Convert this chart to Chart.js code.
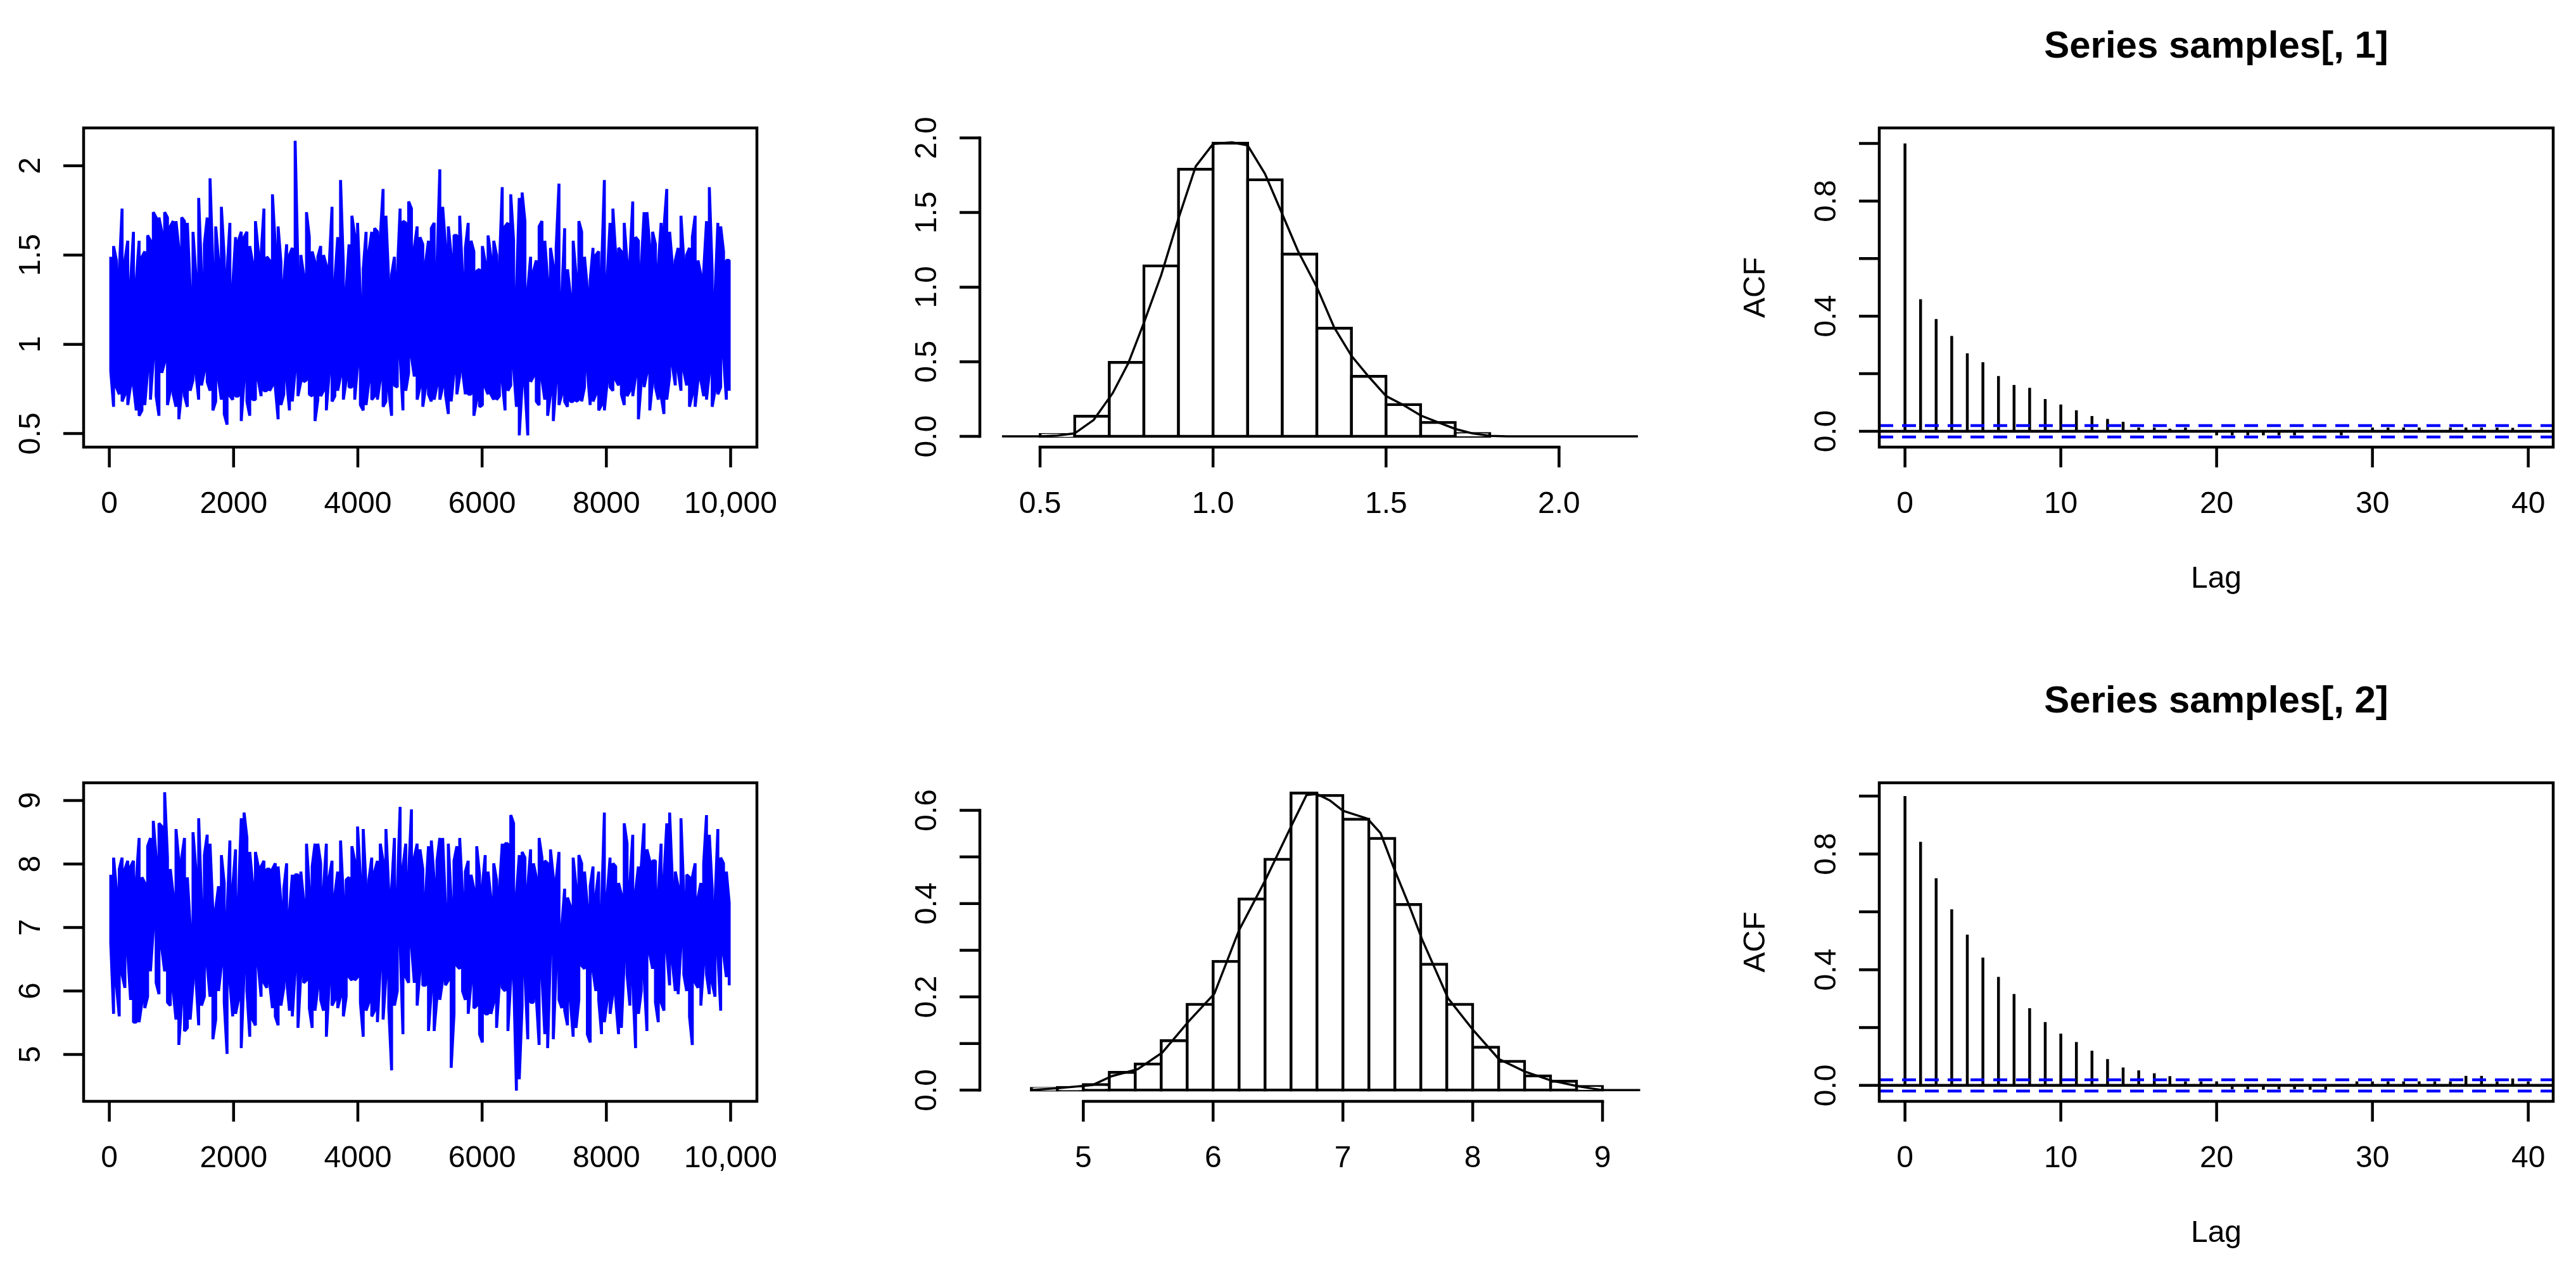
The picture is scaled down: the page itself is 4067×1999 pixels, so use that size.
<!DOCTYPE html>
<html lang="en">
<head>
<meta charset="utf-8">
<title>samples: trace, density, ACF</title>
<script src="https://cdn.jsdelivr.net/npm/chart.js@4.4.1/dist/chart.umd.min.js"></script>
<style>
  html, body { margin: 0; padding: 0; background: #fff; }
  #page { position: relative; width: 4067px; height: 1999px; overflow: hidden; background: #fff; }
  #page canvas { position: absolute; }
</style>
</head>
<body>
<div id="page">
  <canvas id="trace1"></canvas>
  <canvas id="hist1"></canvas>
  <canvas id="acf1"></canvas>
  <canvas id="trace2"></canvas>
  <canvas id="hist2"></canvas>
  <canvas id="acf2"></canvas>
</div>

<script>
// ---- data ----

// trace plots: per screen column, highest and lowest sample value
var traceIterations = 10000;
var trace1Hi = [
  1.49,1.55,1.47,1.41,1.76,1.47,1.58,1.35,1.63,1.36, 1.58,1.49,1.52,1.61,1.58,1.74,1.71,1.71,1.63,1.74,
  1.71,1.66,1.69,1.69,1.54,1.71,1.69,1.68,1.31,1.63, 1.39,1.82,1.39,1.56,1.71,1.93,1.44,1.66,1.47,1.77,
  1.49,1.41,1.68,1.33,1.60,1.58,1.63,1.60,1.63,1.55, 1.46,1.69,1.52,1.50,1.76,1.49,1.47,1.84,1.55,1.66,
  1.46,1.35,1.56,1.50,1.54,2.14,1.41,1.50,1.39,1.74, 1.60,1.52,1.46,1.49,1.55,1.50,1.44,1.44,1.77,1.36,
  1.60,1.92,1.44,1.31,1.56,1.72,1.61,1.68,1.26,1.42, 1.63,1.52,1.63,1.65,1.63,1.60,1.87,1.72,1.35,1.39,
  1.49,1.39,1.76,1.69,1.68,1.80,1.76,1.54,1.66,1.60, 1.56,1.46,1.58,
  1.65,1.68,1.44,1.98,1.77,1.55,1.66,1.50,1.61,1.61, 1.72,1.39,1.54,1.68,1.58,1.52,1.41,1.42,1.55,1.46,
  1.61,1.49,1.58,1.50,1.44,1.88,1.66,1.68,1.84,1.58, 1.30,1.82,1.85,1.69,1.31,1.49,1.41,1.47,1.66,1.69,
  1.58,1.36,1.54,1.44,1.54,1.90,1.28,1.65,1.42,1.28, 1.58,1.39,1.69,1.63,1.49,1.31,1.36,1.54,1.50,1.52,
  1.41,1.92,1.38,1.68,1.76,1.50,1.54,1.52,1.68,1.46, 1.47,1.80,1.60,1.58,1.44,1.74,1.74,1.55,1.63,1.56,
  1.44,1.68,1.65,1.87,1.63,1.44,1.47,1.54,1.72,1.47, 1.50,1.54,1.60,1.72,1.47,1.39,1.41,1.69,1.88,1.41,
  1.28,1.68,1.66,1.52,1.47,1.47
];
var trace1Lo = [
  0.85,0.65,0.76,0.72,0.68,0.72,0.66,0.77,0.77,0.63, 0.60,0.63,0.66,0.85,0.69,0.92,0.71,0.60,0.84,0.90,
  0.66,0.74,0.72,0.65,0.58,0.74,0.71,0.65,0.74,0.80, 0.84,0.69,0.77,0.85,0.79,0.74,0.63,0.68,0.80,0.69,
  0.61,0.55,0.71,0.69,0.71,0.71,0.57,0.80,0.68,0.60, 0.69,0.69,0.80,0.71,0.74,0.74,0.74,0.77,0.76,0.58,
  0.66,0.72,0.80,0.63,0.68,0.85,0.71,0.79,0.79,0.80, 0.72,0.71,0.57,0.69,0.71,0.74,0.63,0.84,0.68,0.71,
  0.74,0.82,0.69,0.80,0.76,0.76,0.69,0.88,0.66,0.63, 0.66,0.79,0.69,0.71,0.69,0.80,0.65,0.68,0.74,0.60,
  0.77,0.76,0.93,0.63,0.74,0.84,0.93,0.82,0.69,0.76, 0.65,0.76,0.72,
  0.68,0.69,0.77,0.69,0.76,0.72,0.61,0.68,0.84,0.72, 0.82,0.85,0.72,0.72,0.72,0.60,0.69,0.65,0.66,0.76,
  0.72,0.72,0.69,0.69,0.71,0.79,0.63,0.74,0.77,0.87, 0.65,0.49,0.77,0.77,0.49,0.79,0.82,0.68,0.66,0.80,
  0.69,0.60,0.72,0.57,0.79,0.66,0.72,0.68,0.65,0.68, 0.68,0.68,0.69,0.68,0.76,0.85,0.66,0.68,0.72,0.63,
  0.66,0.63,0.79,0.76,0.74,0.80,0.77,0.72,0.66,0.71, 0.74,0.71,0.82,0.58,0.79,0.76,0.84,0.63,0.79,0.76,
  0.69,0.71,0.61,0.69,0.82,0.88,0.77,0.85,0.74,0.85, 0.77,0.65,0.72,0.65,0.80,0.80,0.71,0.69,0.84,0.65,
  0.74,0.72,0.76,0.93,0.69,0.74
];
var trace2Hi = [
  7.83,8.10,7.61,7.92,8.10,7.92,8.05,7.96,8.05,7.75, 8.41,7.79,7.70,8.28,8.41,8.68,8.10,8.64,8.59,9.13,
  8.10,7.92,7.52,8.55,8.05,8.10,8.41,7.79,7.03,8.50, 7.92,8.72,7.39,8.14,8.46,8.32,7.25,7.30,7.65,8.14,
  7.70,7.21,8.37,7.65,8.23,7.43,8.72,8.81,8.41,8.19, 7.70,8.19,7.96,7.96,8.05,7.92,7.92,7.92,8.01,7.96,
  7.39,7.61,8.01,7.25,7.83,7.83,7.83,7.88,7.43,8.32, 7.61,7.96,8.32,8.32,8.01,7.61,8.32,7.79,8.05,7.52,
  7.88,8.37,7.47,7.75,7.79,8.28,8.05,8.59,7.79,8.55, 7.65,7.75,8.10,7.88,8.05,8.32,8.05,8.55,7.57,7.61,
  8.41,7.57,8.90,7.96,8.32,7.83,8.86,8.10,8.32,8.23, 7.92,7.52,8.28,8.37,7.75,8.05,8.41,8.41,7.34,8.32,
  7.43,8.05,8.28,8.41,7.52,7.88,8.05,7.83,7.61,8.28, 7.83,7.65,8.14,7.88,7.47,8.01,7.75,7.61,8.32,8.32,
  8.32,8.77,8.64,7.52,8.14,8.19,8.10,7.65,8.23,8.01, 7.79,8.41,8.10,8.05,8.01,8.23,7.79,7.75,8.19,7.03,
  7.61,7.47,7.34,8.10,7.65,8.14,8.01,7.88,7.34,7.65, 7.96,7.52,7.88,7.30,8.81,7.52,8.10,8.01,7.96,7.70,
  7.52,8.64,8.32,7.70,8.46,7.57,7.96,7.96,8.64,8.23, 8.05,8.05,8.05,7.57,8.32,7.79,8.64,8.81,7.70,7.88,
  7.65,8.72,7.52,7.83,7.79,7.79,8.01,7.47,7.70,8.01, 8.77,8.46,7.61,7.39,8.55,8.10,8.01,7.88,7.39
];
var trace2Lo = [
  6.76,5.64,6.09,5.60,6.26,6.05,6.58,5.86,5.51,5.51, 5.51,5.82,5.73,5.91,6.31,6.98,6.13,5.95,6.67,6.31,
  5.82,5.77,6.00,5.55,5.15,5.82,5.37,5.42,5.55,6.13, 6.22,5.46,5.77,5.91,6.40,5.91,5.24,5.55,6.00,6.40,
  5.82,5.01,6.13,5.60,5.64,5.86,5.10,6.31,6.00,5.28, 5.55,5.46,6.40,5.91,6.13,6.05,6.13,5.73,5.60,5.46,
  5.77,6.05,6.17,5.69,5.60,6.31,5.42,6.26,6.13,6.17, 5.73,5.42,5.69,6.05,5.86,5.69,5.28,6.13,5.77,5.86,
  5.73,5.91,5.60,5.91,6.22,6.17,6.17,6.22,5.82,5.28, 5.69,5.82,5.60,5.69,5.51,6.35,5.55,6.22,5.73,4.75,
  5.77,6.00,6.76,5.32,6.22,6.13,6.71,6.13,5.77,6.31, 6.09,6.09,5.37,6.00,5.37,5.91,5.86,6.17,6.09,6.17,
  4.79,5.64,6.40,6.35,6.00,5.86,5.64,6.13,5.73,5.77, 5.32,5.19,5.64,5.64,5.64,5.82,5.42,6.13,6.05,6.00,
  5.37,6.17,6.26,4.43,4.61,5.77,6.26,5.24,5.82,5.82, 5.91,5.15,6.22,5.32,5.10,6.62,5.24,6.35,5.86,5.73,
  5.69,5.46,5.86,5.28,5.42,5.86,6.40,6.35,5.32,5.19, 6.31,6.00,5.86,5.32,5.51,5.86,5.64,5.95,5.86,5.32,
  5.42,6.49,6.26,5.77,6.13,5.10,5.64,6.00,6.22,5.37, 6.58,6.35,5.82,5.51,5.82,5.69,6.62,6.09,6.44,6.00,
  5.95,6.71,6.26,6.00,5.60,5.15,6.13,6.05,5.77,6.44, 6.26,5.95,6.13,5.91,6.58,5.69,6.58,6.22,6.09
];

// histograms (density scale) and kernel density curves
var hist1Breaks  = [0.5,0.6,0.7,0.8,0.9,1.0,1.1,1.2,1.3,1.4,1.5,1.6,1.7,1.8];
var hist1Density = [0.013,0.135,0.496,1.143,1.79,1.965,1.72,1.221,0.725,0.402,0.213,0.094,0.019];
var dens1X = [0.39,0.5,0.55,0.6,0.655,0.71,0.755,0.8,0.85,0.9,0.95,1.0,1.055,1.1,1.15,1.2,1.245,1.3,1.35,1.4,1.45,1.5,1.55,1.6,1.66,1.7,1.75,1.8,1.85,2.228];
var dens1Y = [0,0,0.005,0.02,0.11,0.29,0.49,0.76,1.08,1.46,1.81,1.96,1.97,1.95,1.76,1.49,1.245,1.0,0.73,0.54,0.40,0.27,0.21,0.14,0.086,0.05,0.02,0.003,0,0];

var hist2Breaks  = [4.6,4.8,5.0,5.2,5.4,5.6,5.8,6.0,6.2,6.4,6.6,6.8,7.0,7.2,7.4,7.6,7.8,8.0,8.2,8.4,8.6,8.8,9.0];
var hist2Density = [0.004,0.006,0.012,0.038,0.056,0.106,0.184,0.276,0.41,0.495,0.637,0.632,0.581,0.54,0.398,0.27,0.184,0.092,0.062,0.0305,0.019,0.008];
var dens2X = [4.59,4.8,5.07,5.22,5.42,5.61,5.81,6.01,6.2,6.4,6.6,6.72,6.8,6.9,7.0,7.19,7.29,7.39,7.51,7.61,7.81,8.0,8.2,8.4,8.6,8.8,8.93,9.0,9.29];
var dens2Y = [0,0.004,0.011,0.03,0.045,0.081,0.147,0.207,0.343,0.449,0.565,0.633,0.635,0.621,0.599,0.582,0.551,0.478,0.396,0.323,0.197,0.13,0.067,0.04,0.021,0.009,0.003,0,0];

// autocorrelations, lag 0..40
var acf1 = [1.0,0.459,0.39,0.331,0.271,0.240,0.192,0.161,0.151,0.112,0.093,0.073,0.053,0.043,0.033,0.013,0.013,0.009,0.013,0.003,
            -0.014,-0.014,-0.014,-0.014,-0.014,-0.014,-0.004,0.002,-0.014,-0.003,0.013,0.013,0.013,0.013,0.004,0.013,0.013,0.013,0.013,0.012,0.003];
var acf2 = [1.0,0.842,0.716,0.609,0.521,0.442,0.375,0.316,0.267,0.219,0.179,0.150,0.120,0.091,0.062,0.052,0.042,0.032,0.014,0.014,
            0.014,-0.013,-0.013,-0.015,-0.013,-0.013,-0.015,-0.015,-0.002,0.014,0.014,0.014,0.014,0.014,0.014,0.014,0.033,0.033,0.014,0.024,0.014];
var acfBound = 0.0196;

// tick marks and labels
var traceTicks   = [0,2000,4000,6000,8000,10000];
var traceLabels  = ['0','2000','4000','6000','8000','10,000'];
var trace1YTicks = [0.5,1,1.5,2];
var trace1YLabels= ['0.5','1','1.5','2'];
var trace2YTicks = [5,6,7,8,9];
var trace2YLabels= ['5','6','7','8','9'];
var hist1XTicks  = [0.5,1.0,1.5,2.0];
var hist1XLabels = ['0.5','1.0','1.5','2.0'];
var hist1YTicks  = [0,0.5,1.0,1.5,2.0];
var hist1YLabels = ['0.0','0.5','1.0','1.5','2.0'];
var hist2XTicks  = [5,6,7,8,9];
var hist2XLabels = ['5','6','7','8','9'];
var hist2YTicks  = [0,0.1,0.2,0.3,0.4,0.5,0.6];
var hist2YLabels = ['0.0',null,'0.2',null,'0.4',null,'0.6'];
var acfXTicks    = [0,10,20,30,40];
var acfXLabels   = ['0','10','20','30','40'];
var acfYTicks    = [0,0.2,0.4,0.6,0.8,1.0];
var acfYLabels   = ['0.0',null,'0.4',null,'0.8',null];

// ---- layout ----
var FONT = '"Liberation Sans", Arial, Helvetica, sans-serif';
var LW = 4.5, TICK = 32;
var cellX = [0, 1356, 2711], cellW = [1356, 1355, 1356];
var cellY = [0, 1000], cellH = [1000, 999];
var colL = [132, 1547, 2967], colR = [1195, 2610, 4031];
var rowT = [202, 1236], rowB = [706, 1739];

var axesSpec = {};

var rAxes = {
  id: 'rAxes',
  afterDatasetsDraw: function(chart) {
    var o = axesSpec[chart.canvas.id];
    if (!o) return;
    var ctx = chart.ctx, a = chart.chartArea;
    var xs = chart.scales.x, ys = chart.scales.y;
    var midX = (a.left + a.right) / 2, midY = (a.top + a.bottom) / 2;
    ctx.save();
    ctx.strokeStyle = '#000';
    ctx.fillStyle = '#000';
    ctx.lineWidth = LW;

    if (o.box) {
      ctx.strokeRect(a.left, a.top, a.right - a.left, a.bottom - a.top);
    }

    var px = o.xTicks.map(function(v) { return xs.getPixelForValue(v); });
    var py = o.yTicks.map(function(v) { return ys.getPixelForValue(v); });

    if (!o.box) {
      ctx.lineCap = 'square';
      ctx.beginPath();
      ctx.moveTo(px[0], a.bottom); ctx.lineTo(px[px.length - 1], a.bottom);
      ctx.moveTo(a.left, py[0]); ctx.lineTo(a.left, py[py.length - 1]);
      ctx.stroke();
    }
    ctx.lineCap = 'butt';
    ctx.beginPath();
    px.forEach(function(p) { ctx.moveTo(p, a.bottom); ctx.lineTo(p, a.bottom + TICK); });
    py.forEach(function(p) { ctx.moveTo(a.left, p); ctx.lineTo(a.left - TICK, p); });
    ctx.stroke();

    ctx.font = '48px ' + FONT;
    ctx.textAlign = 'center';
    ctx.textBaseline = 'middle';
    px.forEach(function(p, i) {
      if (o.xLabels[i]) ctx.fillText(o.xLabels[i], p, a.bottom + 91);
    });
    py.forEach(function(p, i) {
      if (!o.yLabels[i]) return;
      ctx.save();
      ctx.translate(a.left - 82, p);
      ctx.rotate(-Math.PI / 2);
      ctx.fillText(o.yLabels[i], 0, 0);
      ctx.restore();
    });

    if (o.xTitle) {
      ctx.textBaseline = 'alphabetic';
      ctx.fillText(o.xTitle, midX, a.bottom + 222);
    }
    if (o.yTitle) {
      ctx.save();
      ctx.textBaseline = 'middle';
      ctx.translate(a.left - 194, midY);
      ctx.rotate(-Math.PI / 2);
      ctx.fillText(o.yTitle, 0, 0);
      ctx.restore();
    }
    if (o.title) {
      ctx.font = 'bold 60px ' + FONT;
      ctx.textBaseline = 'alphabetic';
      ctx.fillText(o.title, midX, a.top - 111);
    }
    ctx.restore();
  }
};

function placeCanvas(id, row, col) {
  var c = document.getElementById(id);
  c.width = cellW[col];
  c.height = cellH[row];
  c.style.left = cellX[col] + 'px';
  c.style.top = cellY[row] + 'px';
  return c;
}

function options(row, col, xr, yr) {
  return {
    responsive: false,
    animation: false,
    devicePixelRatio: 1,
    events: [],
    layout: { padding: {
      left: colL[col] - cellX[col],
      top: rowT[row] - cellY[row],
      right: cellX[col] + cellW[col] - colR[col],
      bottom: cellY[row] + cellH[row] - rowB[row]
    } },
    scales: {
      x: { type: 'linear', display: false, min: xr[0], max: xr[1], offset: false },
      y: { type: 'linear', display: false, min: yr[0], max: yr[1] }
    },
    plugins: { legend: { display: false }, tooltip: { enabled: false } }
  };
}

// zig-zag through each column: top then bottom, bottom then top ...
function tracePoints(hi, lo) {
  var pts = [], w = traceIterations / hi.length;
  for (var k = 0; k < hi.length; k++) {
    var xk = (k + 0.5) * w;
    if (k % 2 === 0) { pts.push({x: xk, y: hi[k]}); pts.push({x: xk, y: lo[k]}); }
    else { pts.push({x: xk, y: lo[k]}); pts.push({x: xk, y: hi[k]}); }
  }
  return pts;
}

function histPoints(breaks, dens) {
  return dens.map(function(d, i) { return {x: (breaks[i] + breaks[i + 1]) / 2, y: d}; });
}

function zipXY(xs, ys) {
  return xs.map(function(x, i) { return {x: x, y: ys[i]}; });
}

function traceChart(id, row, hi, lo, yr, yTicks, yLabels) {
  axesSpec[id] = { box: true, xTicks: traceTicks, xLabels: traceLabels, yTicks: yTicks, yLabels: yLabels };
  new Chart(placeCanvas(id, row, 0), {
    type: 'line',
    data: { datasets: [{
      data: tracePoints(hi, lo),
      borderColor: '#0000ff',
      borderWidth: 4.6,
      borderJoinStyle: 'bevel',
      pointRadius: 0,
      tension: 0,
      fill: false
    }] },
    options: options(row, 0, [-414, 10423], yr),
    plugins: [rAxes]
  });
}

function histChart(id, row, breaks, dens, dx, dy, xr, yr, xTicks, xLabels, yTicks, yLabels) {
  axesSpec[id] = { box: false, xTicks: xTicks, xLabels: xLabels, yTicks: yTicks, yLabels: yLabels };
  new Chart(placeCanvas(id, row, 1), {
    type: 'bar',
    data: { datasets: [{
      type: 'bar',
      data: histPoints(breaks, dens),
      backgroundColor: '#ffffff',
      borderColor: '#000000',
      borderWidth: LW,
      borderSkipped: false,
      inflateAmount: LW / 2,
      barPercentage: 1,
      categoryPercentage: 1,
      order: 2
    }, {
      type: 'line',
      data: zipXY(dx, dy),
      borderColor: '#000000',
      borderWidth: 3.5,
      pointRadius: 0,
      tension: 0,
      fill: false,
      order: 1
    }] },
    options: options(row, 1, xr, yr),
    plugins: [rAxes]
  });
}

function acfChart(id, row, acf, yr, title) {
  var xr = [-1.65, 41.6];
  axesSpec[id] = { box: true, xTicks: acfXTicks, xLabels: acfXLabels, yTicks: acfYTicks, yLabels: acfYLabels,
                   title: title, xTitle: 'Lag', yTitle: 'ACF' };
  function hline(v, color, dash) {
    return { type: 'line', data: [{x: xr[0], y: v}, {x: xr[1], y: v}], borderColor: color, borderWidth: LW,
             borderDash: dash, pointRadius: 0, fill: false, order: 1 };
  }
  new Chart(placeCanvas(id, row, 2), {
    type: 'bar',
    data: { datasets: [{
      type: 'bar',
      data: acf.map(function(v, lag) { return {x: lag, y: v}; }),
      backgroundColor: '#000000',
      borderWidth: 0,
      barThickness: 4.5,
      inflateAmount: 0,
      order: 3
    },
    hline(0, '#000000', []),
    hline(acfBound, '#0000ff', [22, 14]),
    hline(-acfBound, '#0000ff', [22, 14])
    ] },
    options: options(row, 2, xr, yr),
    plugins: [rAxes]
  });
}

traceChart('trace1', 0, trace1Hi, trace1Lo, [0.424, 2.212], trace1YTicks, trace1YLabels);
traceChart('trace2', 1, trace2Hi, trace2Lo, [4.262, 9.279], trace2YTicks, trace2YLabels);

histChart('hist1', 0, hist1Breaks, hist1Density, dens1X, dens1Y, [0.326, 2.272], [-0.072, 2.067],
          hist1XTicks, hist1XLabels, hist1YTicks, hist1YLabels);
histChart('hist2', 1, hist2Breaks, hist2Density, dens2X, dens2Y, [4.203, 9.39], [-0.024, 0.659],
          hist2XTicks, hist2XLabels, hist2YTicks, hist2YLabels);

acfChart('acf1', 0, acf1, [-0.055, 1.054], 'Series samples[, 1]');
acfChart('acf2', 1, acf2, [-0.055, 1.046], 'Series samples[, 2]');
</script>
</body>
</html>
